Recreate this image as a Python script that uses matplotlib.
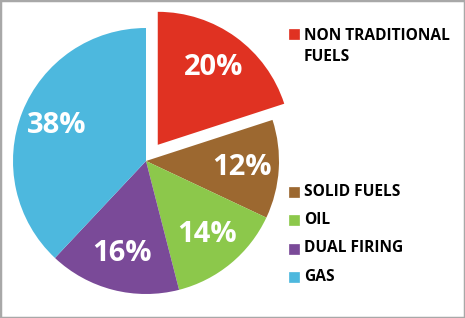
import matplotlib.pyplot as plt
from matplotlib.patches import Rectangle

labels = ["NON TRADITIONAL\nFUELS", "SOLID FUELS", "OIL", "DUAL FIRING", "GAS"]
values = [20, 12, 14, 16, 38]
colors = ["#E03222", "#9C6830", "#8CC84B", "#7A4A98", "#4DB8DE"]

R = 133  # pie radius in pixels
explode = [20, 0, 0, 0, 0]  # matplotlib takes explode in data units

fig = plt.figure(figsize=(4.65, 3.18), dpi=100)
ax = fig.add_axes([0, 0, 1, 1])

wedges, autotexts = ax.pie(
    values, colors=colors, explode=explode, startangle=90, counterclock=False,
    center=(146, 157), radius=R, autopct="%d%%", pctdistance=0.72,
    wedgeprops=dict(edgecolor="none"), frame=True,
    textprops=dict(color="white", fontsize=21, fontweight="bold", family="Open Sans"))[::2]
ax.set_xlim(0, 465)
ax.set_ylim(0, 318)
ax.set_aspect("equal")
ax.axis("off")

# legend drawn by hand (gap between first entry and the rest)
leg_y = [284.5, 126.5, 98, 69.5, 41]
for lab, col, y in zip(labels, colors, leg_y):
    ax.add_patch(Rectangle((289, y - 5), 10, 10, facecolor=col,
                           edgecolor=col, linewidth=0.5))
    if "\n" in lab:
        ax.text(304, y + 5.5, lab, fontsize=11.2, fontweight="bold",
                family="Open Sans", va="top", ha="left", color="black",
                linespacing=1.42)
    else:
        ax.text(304, y, lab, fontsize=11.2, fontweight="bold",
                family="Open Sans", va="center", ha="left", color="black")

# frame
fig.patches.append(Rectangle((0, 0), 1, 1, transform=fig.transFigure, fill=False,
                             edgecolor="#a8a8a8", linewidth=2.5))

fig.savefig("out.png", dpi=100)
